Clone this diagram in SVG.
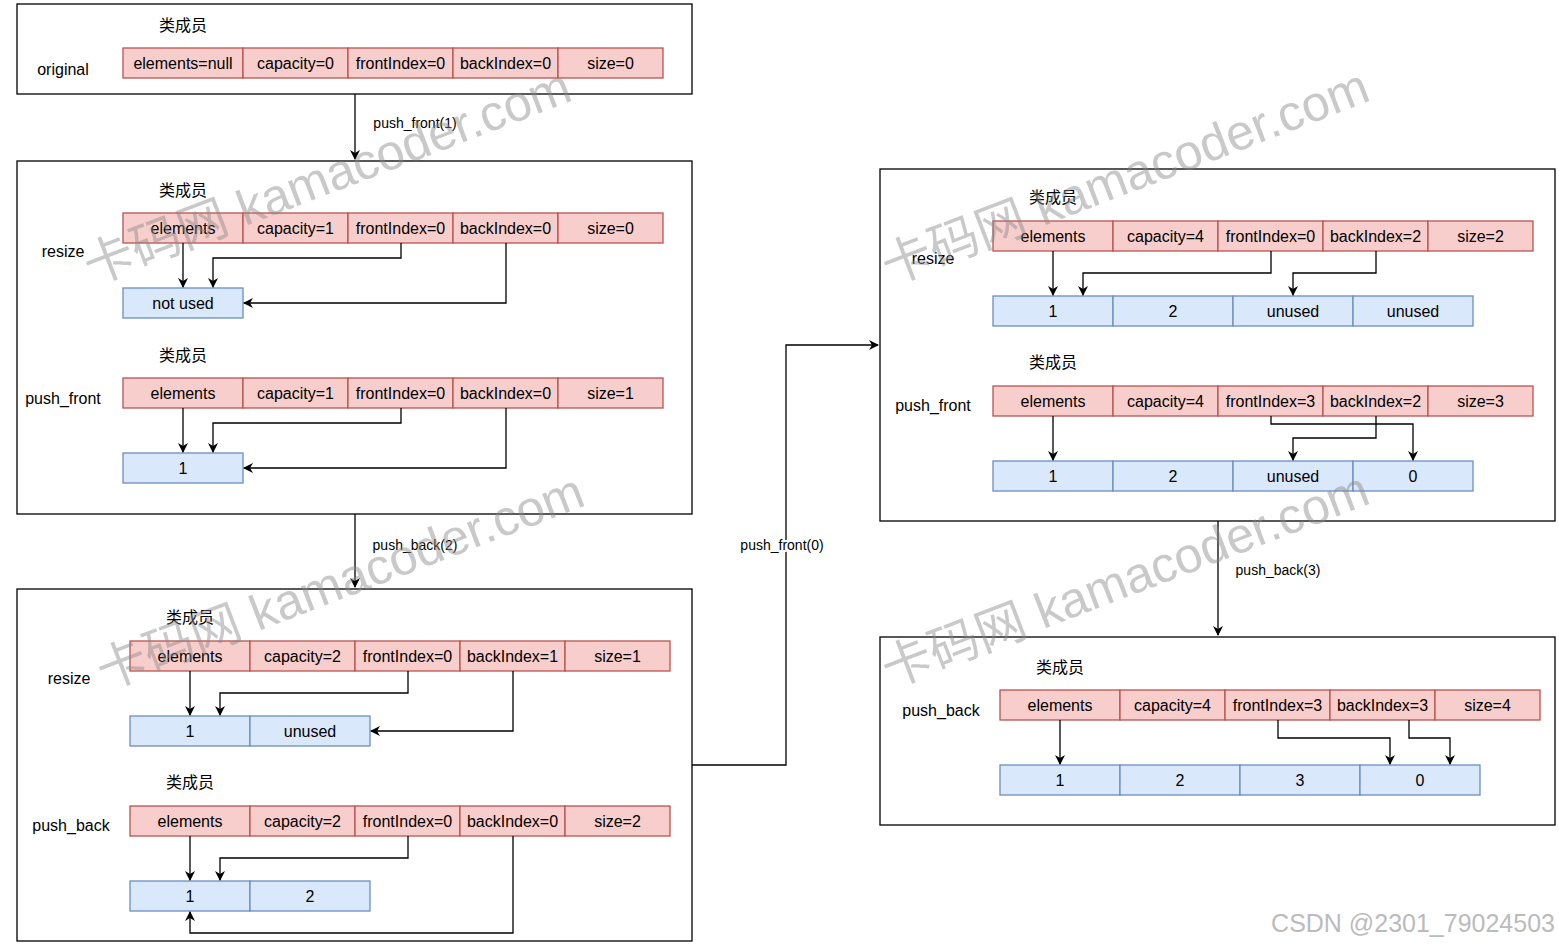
<svg xmlns="http://www.w3.org/2000/svg" width="1559" height="950" viewBox="0 0 1559 950">
<style>
text{font-family:"Liberation Sans",Arial,"Noto Sans CJK SC",sans-serif;fill:#000}
.t{font-size:16px;text-anchor:middle;dominant-baseline:central}
.l{font-size:16px;text-anchor:middle;dominant-baseline:central}
.e{font-size:14px;text-anchor:middle;dominant-baseline:central}
.panel{fill:#fff;stroke:#000;stroke-width:1.3}
.r{fill:#f8cecc;stroke:#b85450;stroke-width:1.3}
.b{fill:#dae8fc;stroke:#6c8ebf;stroke-width:1.3}
.c{fill:none;stroke:#000;stroke-width:1.3;marker-end:url(#a)}
.wm{font-size:50px;fill:#888;fill-opacity:0.45}
</style>
<defs>
<marker id="a" viewBox="0 0 10 10" refX="9" refY="5" markerWidth="10" markerHeight="10" markerUnits="userSpaceOnUse" orient="auto"><path d="M0,0L10,5L0,10L3,5z" fill="#000"/></marker>
</defs>
<g id="panel1">
<rect class="panel" x="17" y="4" width="675" height="90"/>
<text class="t" x="183" y="25">类成员</text><text class="l" x="63" y="69">original</text>
<rect class="r" x="123" y="48" width="120" height="30"/><text class="t" x="183" y="63">elements=null</text>
<rect class="r" x="243" y="48" width="105" height="30"/><text class="t" x="295.5" y="63">capacity=0</text>
<rect class="r" x="348" y="48" width="105" height="30"/><text class="t" x="400.5" y="63">frontIndex=0</text>
<rect class="r" x="453" y="48" width="105" height="30"/><text class="t" x="505.5" y="63">backIndex=0</text>
<rect class="r" x="558" y="48" width="105" height="30"/><text class="t" x="610.5" y="63">size=0</text>
</g>
<g id="panel2">
<rect class="panel" x="17" y="161" width="675" height="353"/>
<text class="t" x="183" y="190">类成员</text><text class="l" x="63" y="251">resize</text>
<rect class="r" x="123" y="213" width="120" height="30"/><text class="t" x="183" y="228">elements</text>
<rect class="r" x="243" y="213" width="105" height="30"/><text class="t" x="295.5" y="228">capacity=1</text>
<rect class="r" x="348" y="213" width="105" height="30"/><text class="t" x="400.5" y="228">frontIndex=0</text>
<rect class="r" x="453" y="213" width="105" height="30"/><text class="t" x="505.5" y="228">backIndex=0</text>
<rect class="r" x="558" y="213" width="105" height="30"/><text class="t" x="610.5" y="228">size=0</text>
<rect class="b" x="123" y="288" width="120" height="30"/><text class="t" x="183" y="303">not used</text>
<text class="t" x="183" y="355">类成员</text><text class="l" x="63" y="398">push_front</text>
<rect class="r" x="123" y="378" width="120" height="30"/><text class="t" x="183" y="393">elements</text>
<rect class="r" x="243" y="378" width="105" height="30"/><text class="t" x="295.5" y="393">capacity=1</text>
<rect class="r" x="348" y="378" width="105" height="30"/><text class="t" x="400.5" y="393">frontIndex=0</text>
<rect class="r" x="453" y="378" width="105" height="30"/><text class="t" x="505.5" y="393">backIndex=0</text>
<rect class="r" x="558" y="378" width="105" height="30"/><text class="t" x="610.5" y="393">size=1</text>
<rect class="b" x="123" y="453" width="120" height="30"/><text class="t" x="183" y="468">1</text>
</g>
<g id="panel3">
<rect class="panel" x="17" y="589" width="675" height="352"/>
<text class="t" x="190" y="617">类成员</text><text class="l" x="69" y="678">resize</text>
<rect class="r" x="130" y="641" width="120" height="30"/><text class="t" x="190" y="656">elements</text>
<rect class="r" x="250" y="641" width="105" height="30"/><text class="t" x="302.5" y="656">capacity=2</text>
<rect class="r" x="355" y="641" width="105" height="30"/><text class="t" x="407.5" y="656">frontIndex=0</text>
<rect class="r" x="460" y="641" width="105" height="30"/><text class="t" x="512.5" y="656">backIndex=1</text>
<rect class="r" x="565" y="641" width="105" height="30"/><text class="t" x="617.5" y="656">size=1</text>
<rect class="b" x="130" y="716" width="120" height="30"/><text class="t" x="190" y="731">1</text>
<rect class="b" x="250" y="716" width="120" height="30"/><text class="t" x="310" y="731">unused</text>
<text class="t" x="190" y="782">类成员</text><text class="l" x="71" y="825">push_back</text>
<rect class="r" x="130" y="806" width="120" height="30"/><text class="t" x="190" y="821">elements</text>
<rect class="r" x="250" y="806" width="105" height="30"/><text class="t" x="302.5" y="821">capacity=2</text>
<rect class="r" x="355" y="806" width="105" height="30"/><text class="t" x="407.5" y="821">frontIndex=0</text>
<rect class="r" x="460" y="806" width="105" height="30"/><text class="t" x="512.5" y="821">backIndex=0</text>
<rect class="r" x="565" y="806" width="105" height="30"/><text class="t" x="617.5" y="821">size=2</text>
<rect class="b" x="130" y="881" width="120" height="30"/><text class="t" x="190" y="896">1</text>
<rect class="b" x="250" y="881" width="120" height="30"/><text class="t" x="310" y="896">2</text>
</g>
<g id="panel4">
<rect class="panel" x="880" y="169" width="675" height="352"/>
<text class="t" x="1053" y="197">类成员</text><text class="l" x="933" y="258">resize</text>
<rect class="r" x="993" y="221" width="120" height="30"/><text class="t" x="1053" y="236">elements</text>
<rect class="r" x="1113" y="221" width="105" height="30"/><text class="t" x="1165.5" y="236">capacity=4</text>
<rect class="r" x="1218" y="221" width="105" height="30"/><text class="t" x="1270.5" y="236">frontIndex=0</text>
<rect class="r" x="1323" y="221" width="105" height="30"/><text class="t" x="1375.5" y="236">backIndex=2</text>
<rect class="r" x="1428" y="221" width="105" height="30"/><text class="t" x="1480.5" y="236">size=2</text>
<rect class="b" x="993" y="296" width="120" height="30"/><text class="t" x="1053" y="311">1</text>
<rect class="b" x="1113" y="296" width="120" height="30"/><text class="t" x="1173" y="311">2</text>
<rect class="b" x="1233" y="296" width="120" height="30"/><text class="t" x="1293" y="311">unused</text>
<rect class="b" x="1353" y="296" width="120" height="30"/><text class="t" x="1413" y="311">unused</text>
<text class="t" x="1053" y="362">类成员</text><text class="l" x="933" y="405">push_front</text>
<rect class="r" x="993" y="386" width="120" height="30"/><text class="t" x="1053" y="401">elements</text>
<rect class="r" x="1113" y="386" width="105" height="30"/><text class="t" x="1165.5" y="401">capacity=4</text>
<rect class="r" x="1218" y="386" width="105" height="30"/><text class="t" x="1270.5" y="401">frontIndex=3</text>
<rect class="r" x="1323" y="386" width="105" height="30"/><text class="t" x="1375.5" y="401">backIndex=2</text>
<rect class="r" x="1428" y="386" width="105" height="30"/><text class="t" x="1480.5" y="401">size=3</text>
<rect class="b" x="993" y="461" width="120" height="30"/><text class="t" x="1053" y="476">1</text>
<rect class="b" x="1113" y="461" width="120" height="30"/><text class="t" x="1173" y="476">2</text>
<rect class="b" x="1233" y="461" width="120" height="30"/><text class="t" x="1293" y="476">unused</text>
<rect class="b" x="1353" y="461" width="120" height="30"/><text class="t" x="1413" y="476">0</text>
</g>
<g id="panel5">
<rect class="panel" x="880" y="637" width="675" height="188"/>
<text class="t" x="1060" y="667">类成员</text><text class="l" x="941" y="710">push_back</text>
<rect class="r" x="1000" y="690" width="120" height="30"/><text class="t" x="1060" y="705">elements</text>
<rect class="r" x="1120" y="690" width="105" height="30"/><text class="t" x="1172.5" y="705">capacity=4</text>
<rect class="r" x="1225" y="690" width="105" height="30"/><text class="t" x="1277.5" y="705">frontIndex=3</text>
<rect class="r" x="1330" y="690" width="105" height="30"/><text class="t" x="1382.5" y="705">backIndex=3</text>
<rect class="r" x="1435" y="690" width="105" height="30"/><text class="t" x="1487.5" y="705">size=4</text>
<rect class="b" x="1000" y="765" width="120" height="30"/><text class="t" x="1060" y="780">1</text>
<rect class="b" x="1120" y="765" width="120" height="30"/><text class="t" x="1180" y="780">2</text>
<rect class="b" x="1240" y="765" width="120" height="30"/><text class="t" x="1300" y="780">3</text>
<rect class="b" x="1360" y="765" width="120" height="30"/><text class="t" x="1420" y="780">0</text>
</g>
<g id="connectors">
<path class="c" d="M355,94V159"/><text class="e" x="415" y="123">push_front(1)</text>
<path class="c" d="M355,514V587"/><text class="e" x="415" y="545">push_back(2)</text>
<path class="c" d="M692,765H786V345H878"/><text class="e" x="782" y="545" style="paint-order:stroke;stroke:#fff;stroke-width:4px">push_front(0)</text>
<path class="c" d="M1218,521V635"/><text class="e" x="1278" y="570">push_back(3)</text>
<path class="c" d="M183,243V287"/><path class="c" d="M401,243V258H213V287"/><path class="c" d="M506,243V303H244"/>
<path class="c" d="M183,408V452"/><path class="c" d="M401,408V423H213V452"/><path class="c" d="M506,408V468H244"/>
<path class="c" d="M190,671V715"/><path class="c" d="M408,671V693H220V715"/><path class="c" d="M513,671V731H371"/>
<path class="c" d="M190,836V880"/><path class="c" d="M408,836V858H220V880"/><path class="c" d="M513,836V933H190V912"/>
<path class="c" d="M1053,251V295"/><path class="c" d="M1271,251V273H1083V295"/><path class="c" d="M1376,251V273H1293V295"/>
<path class="c" d="M1053,416V460"/><path class="c" d="M1271,416V424H1413V460"/><path class="c" d="M1376,416V438H1293V460"/>
<path class="c" d="M1060,720V764"/><path class="c" d="M1278,720V738H1390V764"/><path class="c" d="M1409,720V738H1450V764"/>
</g>
<g id="watermarks">
<text class="wm" transform="translate(92,285) rotate(-21)">卡码网 kamacoder.com</text>
<text class="wm" transform="translate(105,690) rotate(-21)">卡码网 kamacoder.com</text>
<text class="wm" transform="translate(890,285) rotate(-21)">卡码网 kamacoder.com</text>
<text class="wm" transform="translate(890,688) rotate(-21)">卡码网 kamacoder.com</text>
<text x="1555" y="932" style="font-size:25px;fill:#bbb;text-anchor:end">CSDN @2301_79024503</text>
</g>
</svg>
